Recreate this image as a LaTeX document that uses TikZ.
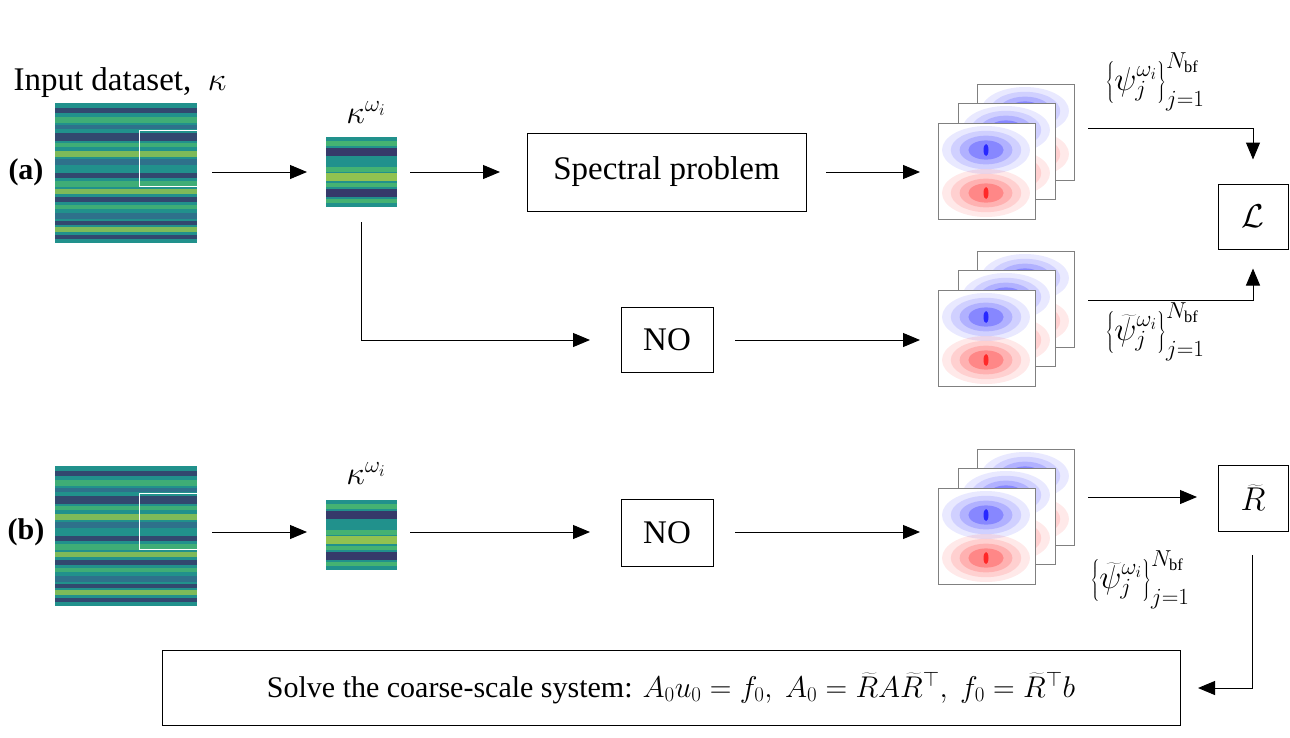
\documentclass[tikz,border=0pt]{standalone}
\usepackage{fix-cm}
\usepackage{fontspec}
\setmainfont{Liberation Serif}
\usetikzlibrary{arrows.meta}
\definecolor{vd}{RGB}{68,1,84}
\definecolor{vb}{RGB}{59,82,139}
\definecolor{vt}{RGB}{33,145,140}
\definecolor{vg}{RGB}{94,201,98}
\definecolor{vy}{RGB}{220,227,40}
\definecolor{bblue}{RGB}{40,40,255}
\definecolor{rred}{RGB}{255,40,40}
\newcommand{\tallstrut}{\vrule height 0.95em depth 0.45em width 0pt}
\tikzset{
 arr/.style={-{Triangle[length=17pt,width=14pt]},line width=1pt},
 box/.style={draw,line width=1pt,inner sep=0pt,minimum height=#1},
 txt/.style={font=\fontsize{33}{40}\selectfont},
 pics/data/.style={code={
   \fill[vt] (0,0) rectangle (142,140);
   \foreach \y/\h/\c in {5/5/vd,14/6/vg,22/4/vb,30/8/vd,40/4/vg,48/6/vy,56/6/vb,64/4/vt,70/5/vd,78/6/vg,86/5/vy,94/5/vd,102/4/vg,110/6/vb,118/4/vd,124/5/vy,132/4/vd}
     \fill[\c,opacity=0.5] (0,\y) rectangle (142,\y+\h);
   \draw[white,line width=1pt] (84,27) rectangle (142,83);
 }},
 pics/small/.style={code={
   \fill[vt] (0,0) rectangle (71,70);
   \foreach \y/\h/\c in {4/5/vg,11/8/vd,22/5/vt,30/5/vg,36/8/vy,46/4/vg,52/8/vd,62/4/vg}
     \fill[\c,opacity=0.6] (0,\y) rectangle (71,\y+\h);
 }},
 pics/bf/.style={code={
   \fill[white] (0,0) rectangle (97,96);
   \foreach \s/\o in {1/0.1,0.8/0.13,0.6/0.18,0.4/0.3}{
     \fill[bblue,opacity=\o] (48,27) ellipse ({44*\s} and {24*\s});
     \fill[rred,opacity=\o] (48,70) ellipse ({44*\s} and {24*\s});}
   \fill[bblue] (48,27) ellipse (2.5 and 6);
   \fill[rred] (48,70) ellipse (2.5 and 6);
   \draw[gray,line width=0.8pt] (0,0) rectangle (97,96);
 }},
 pics/stack/.style={code={
   \pic at (39,-39) {bf}; \pic at (20,-20) {bf}; \pic at (0,0) {bf};
 }}
}
\begin{document}
\begin{tikzpicture}[x=1pt,y=-1pt]
\useasboundingbox (0,0) rectangle (1290,737);
% (a)
\node[txt,anchor=west] (inp) at (10,83) {Input dataset,~ $\kappa$};
\node[txt,font=\fontsize{30}{34}\selectfont\bfseries] (la) at (26,172) {(a)};
\pic at (55,103) {data};
\pic at (326,137) {small};
\node[txt] (k1) at (366,113) {$\kappa^{\omega_i}$};
\node[box=78pt,minimum width=279pt,txt] (sp) at (666.5,172) {Spectral problem};
\pic at (938,123) {stack};
\node[txt] (p1) at (1155,82) {$\left\{\tallstrut\psi_j^{\omega_i}\right\}_{j=1}^{N_{\mathrm{bf}}}$};
\node[box=65pt,minimum width=70pt,txt] (L) at (1253,216.5) {$\mathcal{L}$};
\node[box=65pt,minimum width=92pt,txt] (no1) at (667,339.5) {NO};
\pic at (938,290) {stack};
\node[txt] (p2) at (1155,332) {$\left\{\tallstrut\widetilde{\psi}_j^{\omega_i}\right\}_{j=1}^{N_{\mathrm{bf}}}$};
\draw[arr] (212,172) -- (307,172);
\draw[arr] (410,172) -- (500,172);
\draw[arr] (826,172) -- (920,172);
\draw[arr] (1088,128) -| ([yshift=24pt]L.north);
\draw[arr] (1088,300) -| ([yshift=-19pt]L.south);
\draw[arr] (361,222) |- (590,340);
\draw[arr] (735,340) -- (920,340);
% (b)
\node[txt,font=\fontsize{30}{34}\selectfont\bfseries] (lb) at (26,532) {(b)};
\pic at (55,466) {data};
\pic at (326,500) {small};
\node[txt] (k2) at (366,474) {$\kappa^{\omega_i}$};
\node[box=67pt,minimum width=92pt,txt] (no2) at (667,532.5) {NO};
\pic at (938,488) {stack};
\node[txt] (p3) at (1140,580) {$\left\{\tallstrut\widetilde{\psi}_j^{\omega_i}\right\}_{j=1}^{N_{\mathrm{bf}}}$};
\node[box=66pt,minimum width=70pt,txt] (R) at (1253,498) {$\widetilde{R}$};
\node[box=75pt,minimum width=1018pt,font=\fontsize{30}{36}\selectfont] (solve) at (671,687.5) {Solve the coarse-scale system: $A_0u_0=f_0,\ A_0=\widetilde{R}A\widetilde{R}^{\top},\ f_0=\widetilde{R}^{\top}b$};
\draw[arr] (212,532) -- (307,532);
\draw[arr] (410,532) -- (590,532);
\draw[arr] (735,532) -- (920,532);
\draw[arr] (1088,497) -- (1197,497);
\draw[arr] (1252,555) |- (1198,688);
\end{tikzpicture}
\end{document}
